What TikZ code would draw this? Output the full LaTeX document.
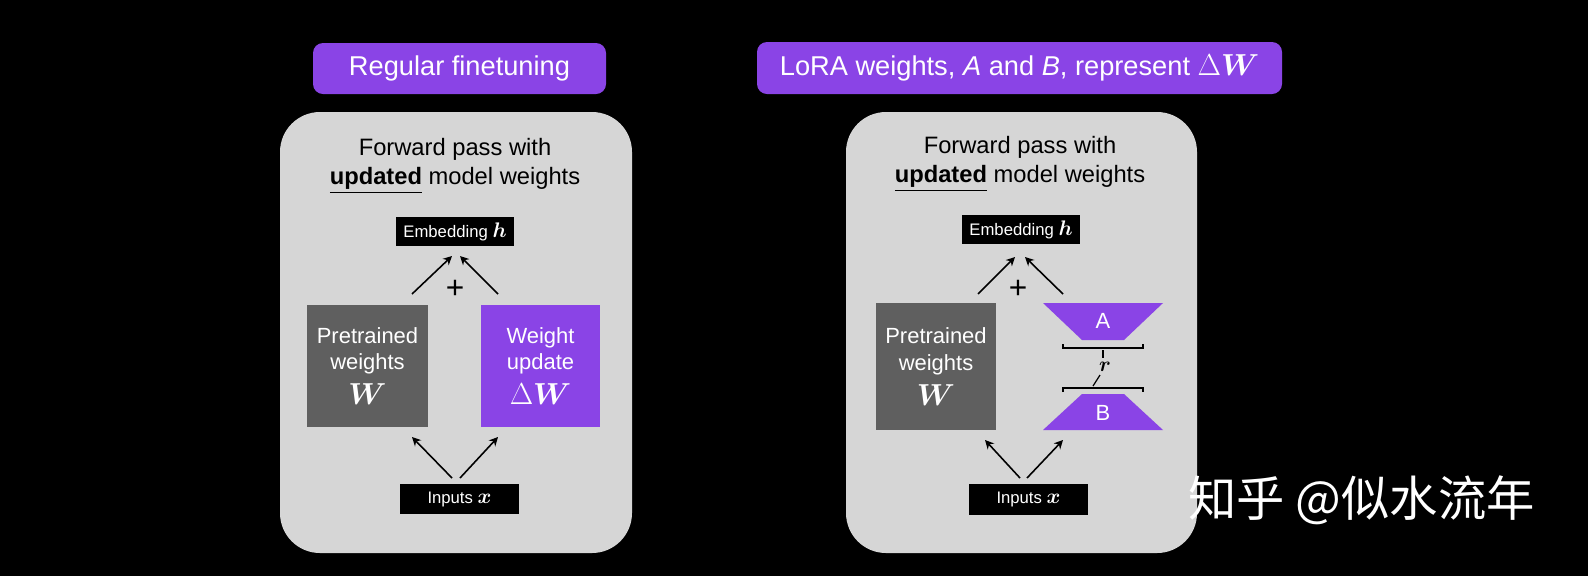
\documentclass[tikz,border=0pt]{standalone}
\usepackage{bm}
\usepackage{fontspec}
\setmainfont{Liberation Sans}
\newfontfamily\cjk{Noto Sans CJK SC}
\usetikzlibrary{arrows.meta}
\definecolor{pur}{HTML}{8A44E6}
\definecolor{dgray}{HTML}{5F5F5F}
\definecolor{lgray}{HTML}{D6D6D6}
\begin{document}
\begin{tikzpicture}[x=0.02cm,y=-0.02cm,
 panel/.style={fill=lgray,rounded corners=0.8cm,draw=none},
 title/.style={fill=pur,rounded corners=0.2cm,text=white,font=\fontsize{15.5}{18}\selectfont,inner sep=0},
 lbl/.style={black,font=\fontsize{13.5}{16.5}\selectfont,align=center},
 blk/.style={fill=black,text=white,font=\fontsize{9.5}{11}\selectfont,inner sep=0},
 wbox/.style={text=white,font=\fontsize{12.5}{15}\selectfont,align=center,inner sep=0},
 arr/.style={-{Stealth[length=5pt,width=5pt]},line width=0.9pt}]
\fill[black] (0,0) rectangle (1588,576);
% left
\node[title,minimum width=293*0.02cm,minimum height=51*0.02cm] (t1) at (459.5,68.5) {Regular finetuning};
\fill[panel] (280,112) rectangle (632,553);
\node[lbl] (f1) at (455,166) {Forward pass with\\\underline{\textbf{updated}} model weights};
\node[blk,minimum width=118*0.02cm,minimum height=29*0.02cm] (e1) at (455,231.5) {Embedding {\large$\bm{h}$}};
\node[font=\fontsize{18}{20}\selectfont] (p1) at (455,289) {+};
\node[wbox,fill=dgray,minimum width=121*0.02cm,minimum height=122*0.02cm] (w1) at (367.5,366) {Pretrained\\weights\\[5pt]{\fontsize{16}{16}\selectfont$\bm{W}$}};
\node[wbox,fill=pur,minimum width=119*0.02cm,minimum height=122*0.02cm] (d1) at (540.5,366) {Weight\\update\\[5pt]{\fontsize{16}{16}\selectfont$\Delta\bm{W}$}};
\node[blk,minimum width=119*0.02cm,minimum height=30*0.02cm] (i1) at (459.5,499) {Inputs {\large$\bm{x}$}};
\coordinate (a1) at (412,294); \coordinate (a2) at (452,256);
\coordinate (a3) at (498,294); \coordinate (a4) at (460,256);
\draw[arr] (a1) -- (a2); \draw[arr] (a3) -- (a4);
\coordinate (b1) at (452,478); \coordinate (b2) at (412,437);
\coordinate (b3) at (460,478); \coordinate (b4) at (498,437);
\draw[arr] (b1) -- (b2); \draw[arr] (b3) -- (b4);
% right
\node[title,minimum width=525*0.02cm,minimum height=52*0.02cm] (t2) at (1019.5,68) {LoRA weights, \textit{A} and \textit{B}, represent {\fontsize{18}{18}\selectfont$\Delta\bm{W}$}};
\fill[panel] (846,112) rectangle (1197,553);
\node[lbl] (f2) at (1020,164) {Forward pass with\\\underline{\textbf{updated}} model weights};
\node[blk,minimum width=118*0.02cm,minimum height=29*0.02cm] (e2) at (1021,229.5) {Embedding {\large$\bm{h}$}};
\node[font=\fontsize{18}{20}\selectfont] (p2) at (1018,289) {+};
\node[wbox,fill=dgray,minimum width=120*0.02cm,minimum height=127*0.02cm] (w2) at (936,366.5) {Pretrained\\weights\\[5pt]{\fontsize{16}{16}\selectfont$\bm{W}$}};
\fill[pur] (1043,303) -- (1163,303) -- (1124,340) -- (1082,340) -- cycle;
\node[wbox] (A) at (1103,321) {A};
\fill[pur] (1082,394) -- (1124,394) -- (1163,430) -- (1043,430) -- cycle;
\node[wbox] (B) at (1103,413) {B};
\draw[line width=0.7pt] (1063,344) -- (1063,348) -- (1143,348) -- (1143,344);
\draw[line width=0.7pt] (1063,392) -- (1063,388) -- (1143,388) -- (1143,392);
\node[font=\fontsize{13}{13}\selectfont] (r) at (1105,367) {$\bm{r}$};
\draw[line width=0.7pt] (1103,350) -- (1103,358);
\draw[line width=0.7pt] (1100,375) -- (1093,386);
\node[blk,minimum width=119*0.02cm,minimum height=31*0.02cm] (i2) at (1028.5,499.5) {Inputs {\large$\bm{x}$}};
\coordinate (c1) at (978,294); \coordinate (c2) at (1015,257);
\coordinate (c3) at (1063,294); \coordinate (c4) at (1025,257);
\draw[arr] (c1) -- (c2); \draw[arr] (c3) -- (c4);
\coordinate (d1) at (1020,478); \coordinate (d2) at (985,440);
\coordinate (d3) at (1027,478); \coordinate (d4) at (1063,440);
\draw[arr] (d1) -- (d2); \draw[arr] (d3) -- (d4);
\node[text=white,font=\cjk\fontsize{27.5}{30}\selectfont,anchor=west,inner sep=0] (wm) at (1188,500) {知乎 @似水流年};
\end{tikzpicture}
\end{document}
